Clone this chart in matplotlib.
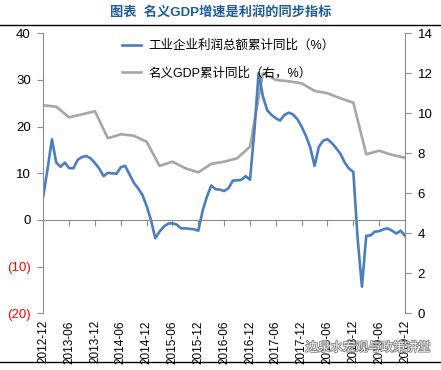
import matplotlib

matplotlib.use("Agg")
import matplotlib.pyplot as plt
import matplotlib.patheffects as pe
from matplotlib.lines import Line2D

plt.rcParams["font.family"] = ["Liberation Sans", "Noto Sans CJK SC", "DejaVu Sans"]

# monthly index, 0 = 2012-12 ... 84 = 2019-12
tick_labels = ["2012-12", "2013-06", "2013-12", "2014-06", "2014-12", "2015-06",
               "2015-12", "2016-06", "2016-12", "2017-06", "2017-12", "2018-06",
               "2018-12", "2019-06", "2019-12"]

profit_yoy = [5.1, 11.0, 17.3, 12.3, 11.4, 12.3, 11.1, 11.1, 12.9, 13.5,
              13.7, 13.2, 12.2, 11.0, 9.4, 10.1, 10.0, 9.9, 11.3, 11.6,
              9.8, 8.0, 6.8, 5.4, 3.0, 0.0, -3.9, -2.5, -1.4, -0.8,
              -0.7, -1.0, -1.8, -1.8, -1.9, -2.0, -2.3, 2.0, 5.0, 7.4,
              6.6, 6.5, 6.2, 6.8, 8.4, 8.5, 8.6, 9.4, 8.6, 18.9,
              31.5, 26.5, 23.5, 22.5, 21.8, 21.3, 22.5, 23.0, 22.6, 21.6,
              20.0, 18.0, 15.5, 11.6, 15.7, 17.0, 17.3, 16.5, 15.4, 14.2,
              12.3, 11.0, 10.3, -4.0, -14.3, -3.4, -3.3, -2.5, -2.4, -2.0,
              -1.8, -2.3, -2.9, -2.3, -3.4]

gdp_yoy = [10.4, 10.33, 9.8, 9.95, 10.1, 8.75, 8.95, 8.88, 8.58, 7.37,
           7.58, 7.25, 7.05, 7.47, 7.58, 7.75, 8.33, 12.0, 11.67, 11.6,
           11.5, 11.12, 11.0, 10.75, 10.53, 7.95, 8.13, 7.92, 7.78]

profit_label = "工业企业利润总额累计同比（%）"
gdp_label = "名义GDP累计同比（右，%）"
title = "图表  名义GDP增速是利润的同步指标"

blue = "#4a7ebf"
grey = "#a6a6a6"
axis_grey = "#8c8c8c"

months = list(range(len(profit_yoy)))
quarters = list(range(0, 3 * len(gdp_yoy), 3))

fig = plt.figure(figsize=(4.41, 3.70), dpi=100)
ax = fig.add_axes([43.3 / 441, 1 - 313.3 / 370, (405 - 43.3) / 441, 280 / 370])
ax2 = ax.twinx()
ax.set_zorder(ax2.get_zorder() + 1)
ax.patch.set_visible(False)

ax.plot(months, profit_yoy, color=blue, lw=1.9, solid_joinstyle="round")
ax2.plot(quarters, gdp_yoy, color=grey, lw=1.9, solid_joinstyle="round")

ax.set_xlim(0, 84)
ax.set_ylim(-20, 40)
ax2.set_ylim(0, 14)
ax.set_yticks(range(-20, 41, 10))
ax.set_yticklabels(["(20)", "(10)", "0", "10", "20", "30", "40"])
for lab in ax.get_yticklabels():
    if lab.get_text().startswith("("):
        lab.set_color("red")
ax2.set_yticks(range(0, 15, 2))

# x axis line sits on zero; labels at the bottom of the plot
ax.spines["bottom"].set_position(("data", 0))
ax.set_xticks(range(0, 85, 6))
ax.tick_params(axis="x", direction="out", length=4, color=axis_grey, labelbottom=False)
sec = ax.secondary_xaxis(0)
sec.set_xticks(range(0, 85, 6))
sec.set_xticklabels(tick_labels, rotation=90, fontsize=8.5)
sec.tick_params(length=0, pad=5)
sec.spines["bottom"].set_visible(False)

for a in (ax, ax2):
    a.spines["top"].set_visible(False)
    for s in a.spines.values():
        s.set_color(axis_grey)
ax.spines["right"].set_visible(False)
ax2.spines["left"].set_visible(False)
ax2.spines["bottom"].set_visible(False)
ax.tick_params(axis="y", direction="out", length=4, color=axis_grey, labelsize=9.5, pad=5)
ax2.tick_params(axis="y", direction="out", length=4, color=axis_grey, labelsize=9.5, pad=5)

handles = [Line2D([], [], color=blue, lw=1.9), Line2D([], [], color=grey, lw=1.9)]
fig.legend(handles, [profit_label, gdp_label], loc="upper left",
           bbox_to_anchor=(118 / 441, 1 - 36 / 370), frameon=False,
           fontsize=9, handlelength=1.5, handletextpad=0.6, labelspacing=1.2,
           borderaxespad=0, borderpad=0.3)

fig.text(0.5, 1 - 12 / 370, title, ha="center", va="center", fontsize=9.5,
         fontweight="bold", color="#1f5c99")
fig.add_artist(Line2D([0, 1], [1 - 25 / 370, 1 - 25 / 370], color="black", lw=1))
fig.add_artist(Line2D([0, 1], [1 - 362 / 370, 1 - 362 / 370], color="black", lw=1))

fig.text(368 / 441, 1 - 348 / 370, "边泉水宏观与政策讲堂", ha="center", va="center",
         fontsize=9, color="white", alpha=0.9,
         path_effects=[pe.withStroke(linewidth=1.2, foreground="#777777")])

fig.savefig("out.png", dpi=100)
